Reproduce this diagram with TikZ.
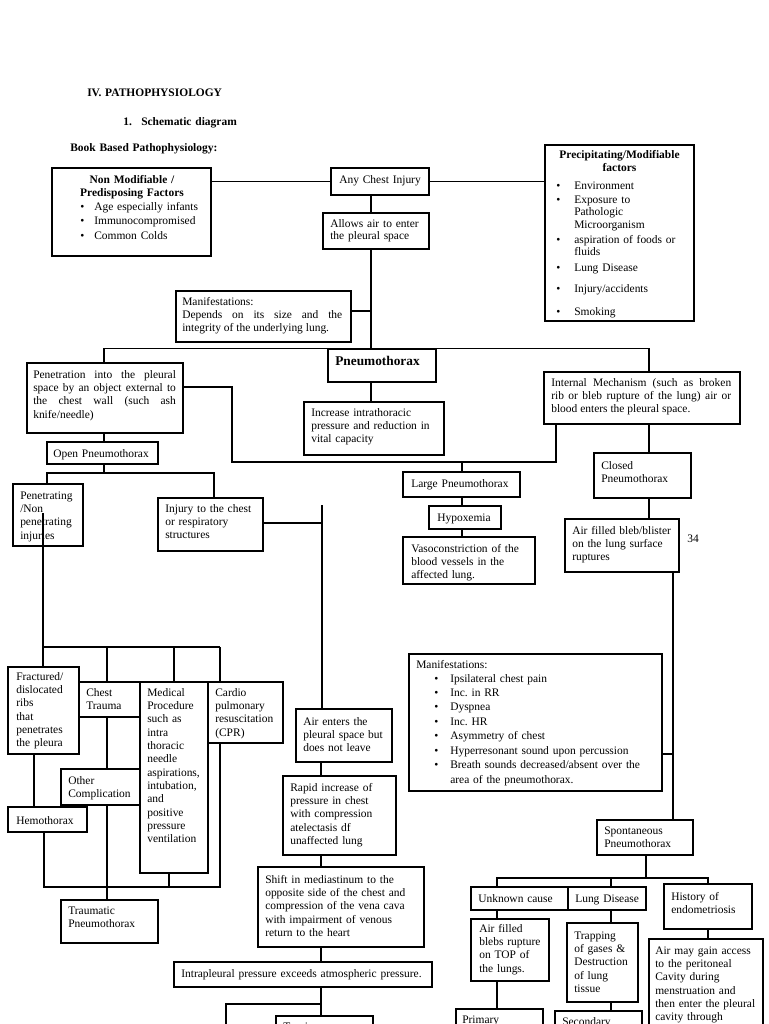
\documentclass[tikz,border=0pt]{standalone}
\usepackage{fontspec}
\setmainfont{Liberation Serif}
\usetikzlibrary{fit}
\pgfdeclarelayer{bg}
\pgfsetlayers{bg,main}
\frenchspacing
\newcommand\bl[1][7.5pt]{\leavevmode\llap{\textbullet\hspace{#1}}}
\newcommand\bx[5]{\node[box, fit={(#2,#3) (#4,#5)}] (#1) {};}
\tikzset{
  box/.style={draw, line width=0.85pt, fill=white, inner sep=0pt},
  txt/.style={inner sep=0pt, anchor=base west, text width=230pt, align=left, font=\fontsize{8.6}{10}\selectfont\frenchspacing},
  hd/.style={txt, font=\fontsize{8.6}{10}\selectfont\bfseries},
  conn/.style={line width=0.85pt},
}
\begin{document}
\begin{tikzpicture}[x=0.75pt,y=-0.75pt]
\useasboundingbox (0,0) rectangle (768,1024);
% headings
\node[hd] (h1) at (87,97) {IV. PATHOPHYSIOLOGY};
\node[hd] (h2a) at (123,125) {1.};
\node[hd] (h2) at (141,125) {Schematic diagram};
\node[hd] (h3) at (70,151) {Book Based Pathophysiology:};
% non modifiable
\bx{nonmod}{52}{168}{211}{256}
\node[hd, anchor=base, align=center] (nonmodT) at (132,183) {Non Modifiable /\\Predisposing Factors};
\node[txt, font=\fontsize{8.6}{10.9}\selectfont] (nonmodL) at (94,210) {\bl Age especially infants\\\bl Immunocompromised\\\bl Common Colds};
% any chest injury
\bx{anychest}{331}{168}{429}{195}
\node[txt] (anychestT) at (339,183) {Any Chest Injury};
% precipitating
\bx{prec}{545}{145}{694}{321}
\node[hd, anchor=base, align=center] (precT) at (619.5,158) {Precipitating/Modifiable\\factors};
\tikzset{pl/.style={txt, font=\fontsize{8.6}{9.4}\selectfont}}
\node[pl] (p1) at (574,189) {\bl[10.5pt]Environment};
\node[pl] (p2) at (574,203) {\bl[10.5pt]Exposure to\\Pathologic\\Microorganism};
\node[pl] (p3) at (574,243) {\bl[10.5pt]aspiration of foods or\\fluids};
\node[pl] (p4) at (574,271) {\bl[10.5pt]Lung Disease};
\node[pl] (p5) at (574,292) {\bl[10.5pt]Injury/accidents};
\node[pl] (p6) at (574,315) {\bl[10.5pt]Smoking};
% allows air
\bx{allows}{323}{213}{429}{249}
\node[txt, font=\fontsize{8.6}{9}\selectfont] (allowsT) at (330,227) {Allows air to enter\\the pleural space};
% manifestations 1
\bx{manif1}{176}{291}{351}{342}
\node[txt, text width=120pt, align=justify] (manif1T) at (182,305) {Manifestations:\newline Depends on its size and the\linebreak integrity of the underlying lung.};
% pneumothorax
\bx{pneumo}{328}{349}{436}{382}
\node[txt, font=\fontsize{10}{12}\selectfont\bfseries] (pneumoT) at (335,365) {Pneumothorax};
% penetration
\bx{penet}{27}{363}{183}{433}
\node[txt, text width=107pt, align=justify] (penetT) at (33,378) {Penetration into the pleural\linebreak space by an object external to\linebreak the chest wall (such ash\linebreak knife/needle)};
% increase
\bx{incr}{304}{402}{444}{455}
\node[txt] (incrT) at (311,416) {Increase intrathoracic\\pressure and reduction in\\vital capacity};
% internal
\bx{internal}{544}{372}{740}{424}
\node[txt, text width=135pt, align=justify] (internalT) at (551,386) {Internal Mechanism (such as broken\linebreak rib or bleb rupture of the lung) air or\linebreak blood enters the pleural space.};
% open
\bx{open}{47}{442}{158}{464}
\node[txt] (openT) at (53,457) {Open Pneumothorax};
% large etc
\bx{large}{403}{472}{520}{497}
\node[txt] (largeT) at (411,487) {Large Pneumothorax};
\bx{closed}{594}{453}{691}{498}
\node[txt] (closedT) at (601,469) {Closed\\Pneumothorax};
\bx{hypox}{429}{506}{501}{529}
\node[txt] (hypoxT) at (437,521) {Hypoxemia};
\bx{airbleb}{565}{519}{679}{572}
\node[txt] (airblebT) at (572,534) {Air filled bleb/blister\\on the lung surface\\ruptures};
\node[txt] (pagenum) at (687,542) {34};
\bx{vaso}{403}{537}{535}{584}
\node[txt] (vasoT) at (411,552) {Vasoconstriction of the\\blood vessels in the\\affected lung.};
% left branch
\bx{pennon}{13}{484}{83}{546}
\node[txt] (pennonT) at (20,499) {Penetrating\\/Non\\penetrating\\injuries};
\bx{injury}{158}{498}{263}{551}
\node[txt] (injuryT) at (165,512) {Injury to the chest\\or respiratory\\structures};
\bx{fract}{8}{667}{79}{754}
\node[txt] (fractT) at (16,680) {Fractured/\\dislocated\\ribs\\that\\penetrates\\the pleura};
\bx{chest}{79}{682}{140}{717}
\node[txt] (chestT) at (86,696) {Chest\\Trauma};
\bx{medical}{140}{682}{208}{873}
\node[txt] (medicalT) at (147,696) {Medical\\Procedure\\such as\\intra\\thoracic\\needle\\aspirations,\\intubation,\\and\\positive\\pressure\\ventilation};
\bx{cardio}{208}{682}{283}{743}
\node[txt] (cardioT) at (215,696) {Cardio\\pulmonary\\resuscitation\\(CPR)};
\bx{other}{61}{769}{140}{805}
\node[txt] (otherT) at (68,784) {Other\\Complication};
\bx{hemo}{8}{807}{87}{832}
\node[txt] (hemoT) at (16,824) {Hemothorax};
\bx{trauma}{61}{900}{158}{943}
\node[txt] (traumaT) at (68,914) {Traumatic\\Pneumothorax};
% centre chain
\bx{airenters}{296}{709}{392}{762}
\node[txt] (airentersT) at (303,725) {Air enters the\\pleural space but\\does not leave};
\bx{rapid}{283}{776}{396}{855}
\node[txt] (rapidT) at (290,791) {Rapid increase of\\pressure in chest\\with compression\\atelectasis df\\unaffected lung};
\bx{shift}{258}{867}{424}{947}
\node[txt] (shiftT) at (265,883) {Shift in mediastinum to the\\opposite side of the chest and\\compression of the vena cava\\with impairment of venous\\return to the heart};
\bx{intra}{174}{962}{432}{987}
\node[txt] (intraT) at (181,977) {Intrapleural pressure exceeds atmospheric pressure.};
\bx{tension}{276}{1016}{373}{1045}
\node[txt] (tensionT) at (283,1030) {Tension};
% manifestations 2
\bx{manif2}{409}{654}{662}{791}
\node[txt] (manif2H) at (416,668) {Manifestations:};
\node[txt, font=\fontsize{8.6}{10.85}\selectfont] (manif2L) at (450,682) {\bl[9pt]Ipsilateral chest pain\\\bl[9pt]Inc. in RR\\\bl[9pt]Dyspnea\\\bl[9pt]Inc. HR\\\bl[9pt]Asymmetry of chest\\\bl[9pt]Hyperresonant sound upon percussion\\\bl[9pt]Breath sounds decreased/absent over the\\area of the pneumothorax.};
% spontaneous
\bx{spont}{597}{820}{693}{855}
\node[txt] (spontT) at (604,834) {Spontaneous\\Pneumothorax};
\bx{unknown}{471}{887}{568}{910}
\node[txt] (unknownT) at (478,902) {Unknown cause};
\bx{lungd}{568}{887}{646}{910}
\node[txt] (lungdT) at (575,902) {Lung Disease};
\bx{history}{664}{884}{752}{929}
\node[txt] (historyT) at (671,900) {History of\\endometriosis};
\bx{airfilled}{471}{919}{549}{981}
\node[txt] (airfilledT) at (479,932) {Air filled\\blebs rupture\\on TOP of\\the lungs.};
\bx{trapping}{567}{923}{638}{1002}
\node[txt] (trappingT) at (574,939) {Trapping\\of gases \&\\Destruction\\of lung\\tissue};
\bx{airmay}{649}{939}{763}{1045}
\node[txt] (airmayT) at (655,954) {Air may gain access\\to the peritoneal\\Cavity during\\menstruation and\\then enter the pleural\\cavity through};
\bx{primary}{456}{1009}{543}{1045}
\node[txt] (primaryT) at (462,1023) {Primary};
\bx{secondary}{555}{1011}{642}{1045}
\node[txt] (secondaryT) at (562,1025) {Secondary};
% connectors
\coordinate (vA) at (43,0);
\coordinate (hP2) at (0,513);
\draw[conn] (vA |- hP2) -- (pennon.south -| vA);
\begin{pgfonlayer}{bg}
\fill[white] (0,0) rectangle (768,1024);
\coordinate (vS) at (371,0);
\coordinate (hM) at (0,311);
\coordinate (vPL) at (104,0);
\coordinate (vIM) at (649,0);
\coordinate (hPE) at (0,387);
\coordinate (vJ) at (232,0);
\coordinate (hJ) at (0,462);
\coordinate (vI2) at (556,0);
\coordinate (vLg) at (462,0);
\coordinate (vAB) at (673,0);
\coordinate (hM2) at (0,754);
\coordinate (hO) at (0,473);
\coordinate (vPN) at (47,0);
\coordinate (vIN) at (214,0);
\coordinate (hI) at (0,523);
\coordinate (vIV) at (322,0);
\coordinate (hIV) at (0,505);
\coordinate (hB1) at (0,647);
\coordinate (vB) at (107,0);
\coordinate (vC) at (174,0);
\coordinate (vD) at (220,0);
\coordinate (vF) at (34,0);
\coordinate (hB2) at (0,887);
\coordinate (vH) at (44,0);
\coordinate (vM) at (169,0);
\coordinate (vR) at (321,0);
\coordinate (hT) at (0,1004);
\coordinate (vT) at (226,0);
\coordinate (endT) at (226,1030);
\coordinate (vSP) at (646,0);
\coordinate (hB3) at (0,878);
\coordinate (vU) at (497,0);
\coordinate (vL) at (611,0);
\coordinate (vHi) at (708,0);
\draw[conn] (anychest.west) -- (anychest.west -| nonmod.east);
\draw[conn] (anychest.east) -- (anychest.east -| prec.west);
\draw[conn] (anychest.south -| vS) -- (allows.north -| vS);
\draw[conn] (allows.south -| vS) -- (pneumo.north -| vS);
\draw[conn] (manif1.east |- hM) -- (vS |- hM);
\draw[conn] (penet.north -| vPL) -- (vPL |- pneumo.north) -- (vIM |- pneumo.north) -- (internal.north -| vIM);
\draw[conn] (pneumo.south -| vS) -- (incr.north -| vS);
\draw[conn] (penet.east |- hPE) -- (vJ |- hPE) -- (vJ |- hJ) -- (vI2 |- hJ) -- (internal.south -| vI2);
\draw[conn] (vLg |- hJ) -- (large.north -| vLg);
\draw[conn] (large.south -| vLg) -- (hypox.north -| vLg);
\draw[conn] (hypox.south -| vLg) -- (vaso.north -| vLg);
\draw[conn] (internal.south -| vIM) -- (closed.north -| vIM);
\draw[conn] (closed.south -| vIM) -- (airbleb.north -| vIM);
\draw[conn] (airbleb.south -| vAB) -- (spont.north -| vAB);
\draw[conn] (manif2.east |- hM2) -- (vAB |- hM2);
\draw[conn] (penet.south -| vPL) -- (open.north -| vPL);
\draw[conn] (open.south -| vPL) -- (vPL |- hO);
\draw[conn] (pennon.north -| vPN) -- (vPN |- hO) -- (vIN |- hO) -- (injury.north -| vIN);
\draw[conn] (injury.east |- hI) -- (vIV |- hI);
\draw[conn] (vIV |- hIV) -- (airenters.north -| vIV);
\draw[conn] (pennon.south -| vA) -- (vA |- hB1) -- (vD |- hB1);
\draw[conn] (vA |- hB1) -- (fract.north -| vA);
\draw[conn] (vB |- hB1) -- (chest.north -| vB);
\draw[conn] (vC |- hB1) -- (medical.north -| vC);
\draw[conn] (vD |- hB1) -- (cardio.north -| vD);
\draw[conn] (fract.south -| vF) -- (hemo.north -| vF);
\draw[conn] (chest.south -| vB) -- (other.north -| vB);
\draw[conn] (hemo.south -| vH) -- (vH |- hB2) -- (vD |- hB2) -- (cardio.south -| vD);
\draw[conn] (medical.south -| vM) -- (vM |- hB2);
\draw[conn] (other.south -| vB) -- (trauma.north -| vB);
\draw[conn] (airenters.south -| vR) -- (rapid.north -| vR);
\draw[conn] (rapid.south -| vR) -- (shift.north -| vR);
\draw[conn] (shift.south -| vR) -- (intra.north -| vR);
\draw[conn] (intra.south -| vR) -- (tension.north -| vR);
\draw[conn] (vR |- hT) -- (vT |- hT) -- (endT);
\draw[conn] (spont.south -| vSP) -- (vSP |- hB3);
\draw[conn] (unknown.north -| vU) -- (vU |- hB3) -- (vHi |- hB3) -- (history.north -| vHi);
\draw[conn] (vL |- hB3) -- (lungd.north -| vL);
\draw[conn] (unknown.south -| vU) -- (airfilled.north -| vU);
\draw[conn] (airfilled.south -| vU) -- (primary.north -| vU);
\draw[conn] (lungd.south -| vL) -- (trapping.north -| vL);
\draw[conn] (trapping.south -| vL) -- (secondary.north -| vL);
\draw[conn] (history.south -| vHi) -- (airmay.north -| vHi);
\end{pgfonlayer}
\end{tikzpicture}
\end{document}
